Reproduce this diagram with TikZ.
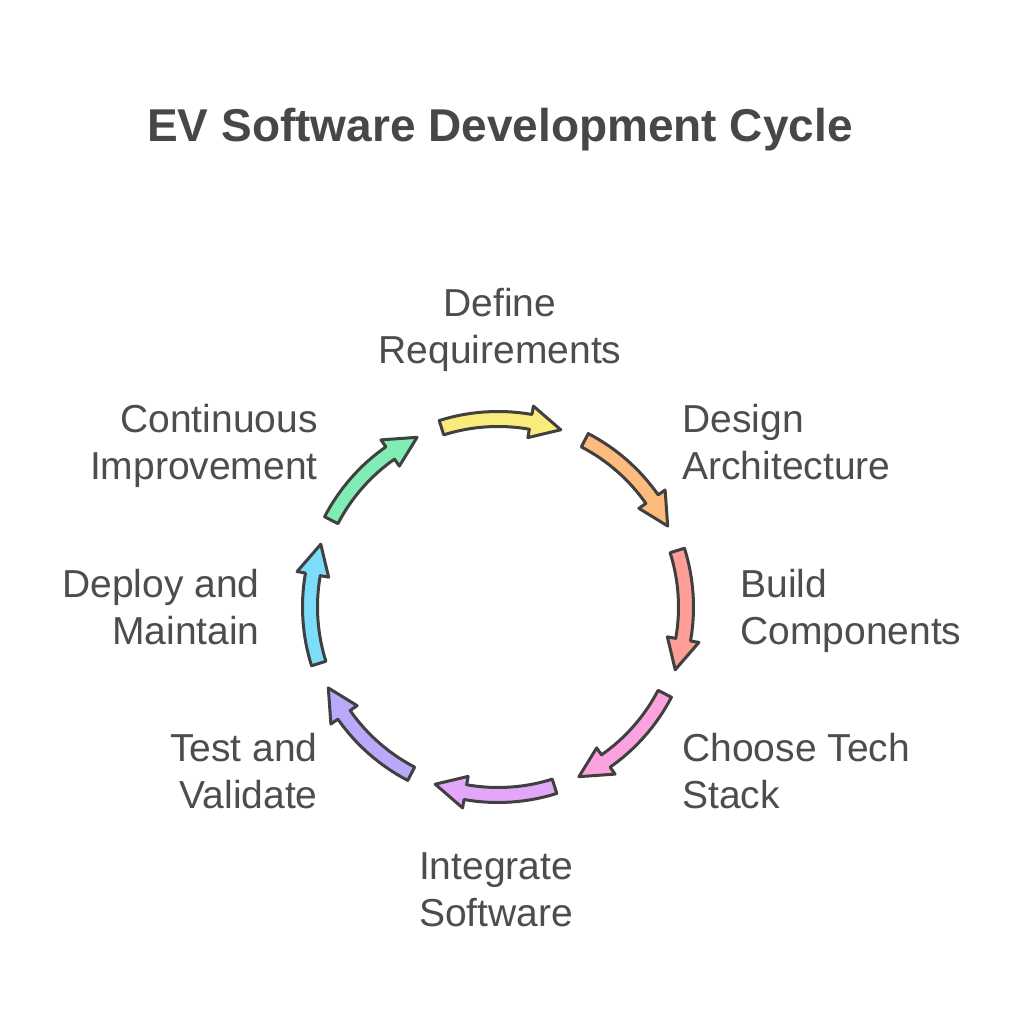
\documentclass[tikz,border=0pt]{standalone}
\usepackage{fontspec}
\setmainfont{Liberation Sans}
\definecolor{inkgray}{HTML}{4D4D4D}
\definecolor{titlegray}{HTML}{474747}
\definecolor{edgegray}{HTML}{404040}
\definecolor{cycyellow}{HTML}{FAEB7D}
\definecolor{cycorange}{HTML}{FDBB7D}
\definecolor{cycsalmon}{HTML}{FD9E98}
\definecolor{cycpink}{HTML}{FBA2DF}
\definecolor{cycorchid}{HTML}{E3A7F9}
\definecolor{cyclavender}{HTML}{BBA8FB}
\definecolor{cycsky}{HTML}{7EDCFB}
\definecolor{cycmint}{HTML}{80EDB5}
\begin{document}
\begin{tikzpicture}
  [
    x=0.5pt,y=0.5pt,
    heading/.style={text=titlegray,inner sep=0pt,font=\bfseries\fontsize{23pt}{28pt}\selectfont},
    stage/.style={text=inkgray,inner sep=0pt,font=\fontsize{19.5pt}{23.5pt}\selectfont},
    arrowpart/.style={draw=edgegray,line width=1.5pt,line join=round},
    cyclearrow/.pic={
      \path[pic actions] (107.5:195.5) arc[start angle=107.5,end angle=80,radius=195.5]
        -- (80:204) -- (70.5:188) -- (80:172) -- (80:180.5)
        arc[start angle=80,end angle=107.5,radius=180.5] -- cycle;
    },
  ]
  \path[fill=white] (0,0) rectangle (1024,1024);
  \node (title) at (500,882) [heading,anchor=base] {EV Software Development Cycle};
  \coordinate (hub) at (498,417);
  % arrows of the cycle, clockwise from the top
  \pic[arrowpart,fill=cycyellow] at (hub) {cyclearrow};
  \pic[arrowpart,fill=cycorange,rotate=-45] at (hub) {cyclearrow};
  \pic[arrowpart,fill=cycsalmon,rotate=-90] at (hub) {cyclearrow};
  \pic[arrowpart,fill=cycpink,rotate=-135] at (hub) {cyclearrow};
  \pic[arrowpart,fill=cycorchid,rotate=-180] at (hub) {cyclearrow};
  \pic[arrowpart,fill=cyclavender,rotate=-225] at (hub) {cyclearrow};
  \pic[arrowpart,fill=cycsky,rotate=-270] at (hub) {cyclearrow};
  \pic[arrowpart,fill=cycmint,rotate=-315] at (hub) {cyclearrow};
  % stage labels
  \node (define) at (500,736) [stage,anchor=north,align=center] {Define\\Requirements};
  \node (design) at (682,620) [stage,anchor=north west,align=left] {Design\\Architecture};
  \node (build) at (740,455) [stage,anchor=north west,align=left] {Build\\Components};
  \node (choose) at (682,291) [stage,anchor=north west,align=left] {Choose Tech\\Stack};
  \node (integrate) at (496,172) [stage,anchor=north,align=center] {Integrate\\Software};
  \node (test) at (318,291) [stage,anchor=north east,align=right] {Test and\\Validate};
  \node (deploy) at (260,455) [stage,anchor=north east,align=right] {Deploy and\\Maintain};
  \node (improve) at (318,620) [stage,anchor=north east,align=right] {Continuous\\Improvement};
\end{tikzpicture}
\end{document}
